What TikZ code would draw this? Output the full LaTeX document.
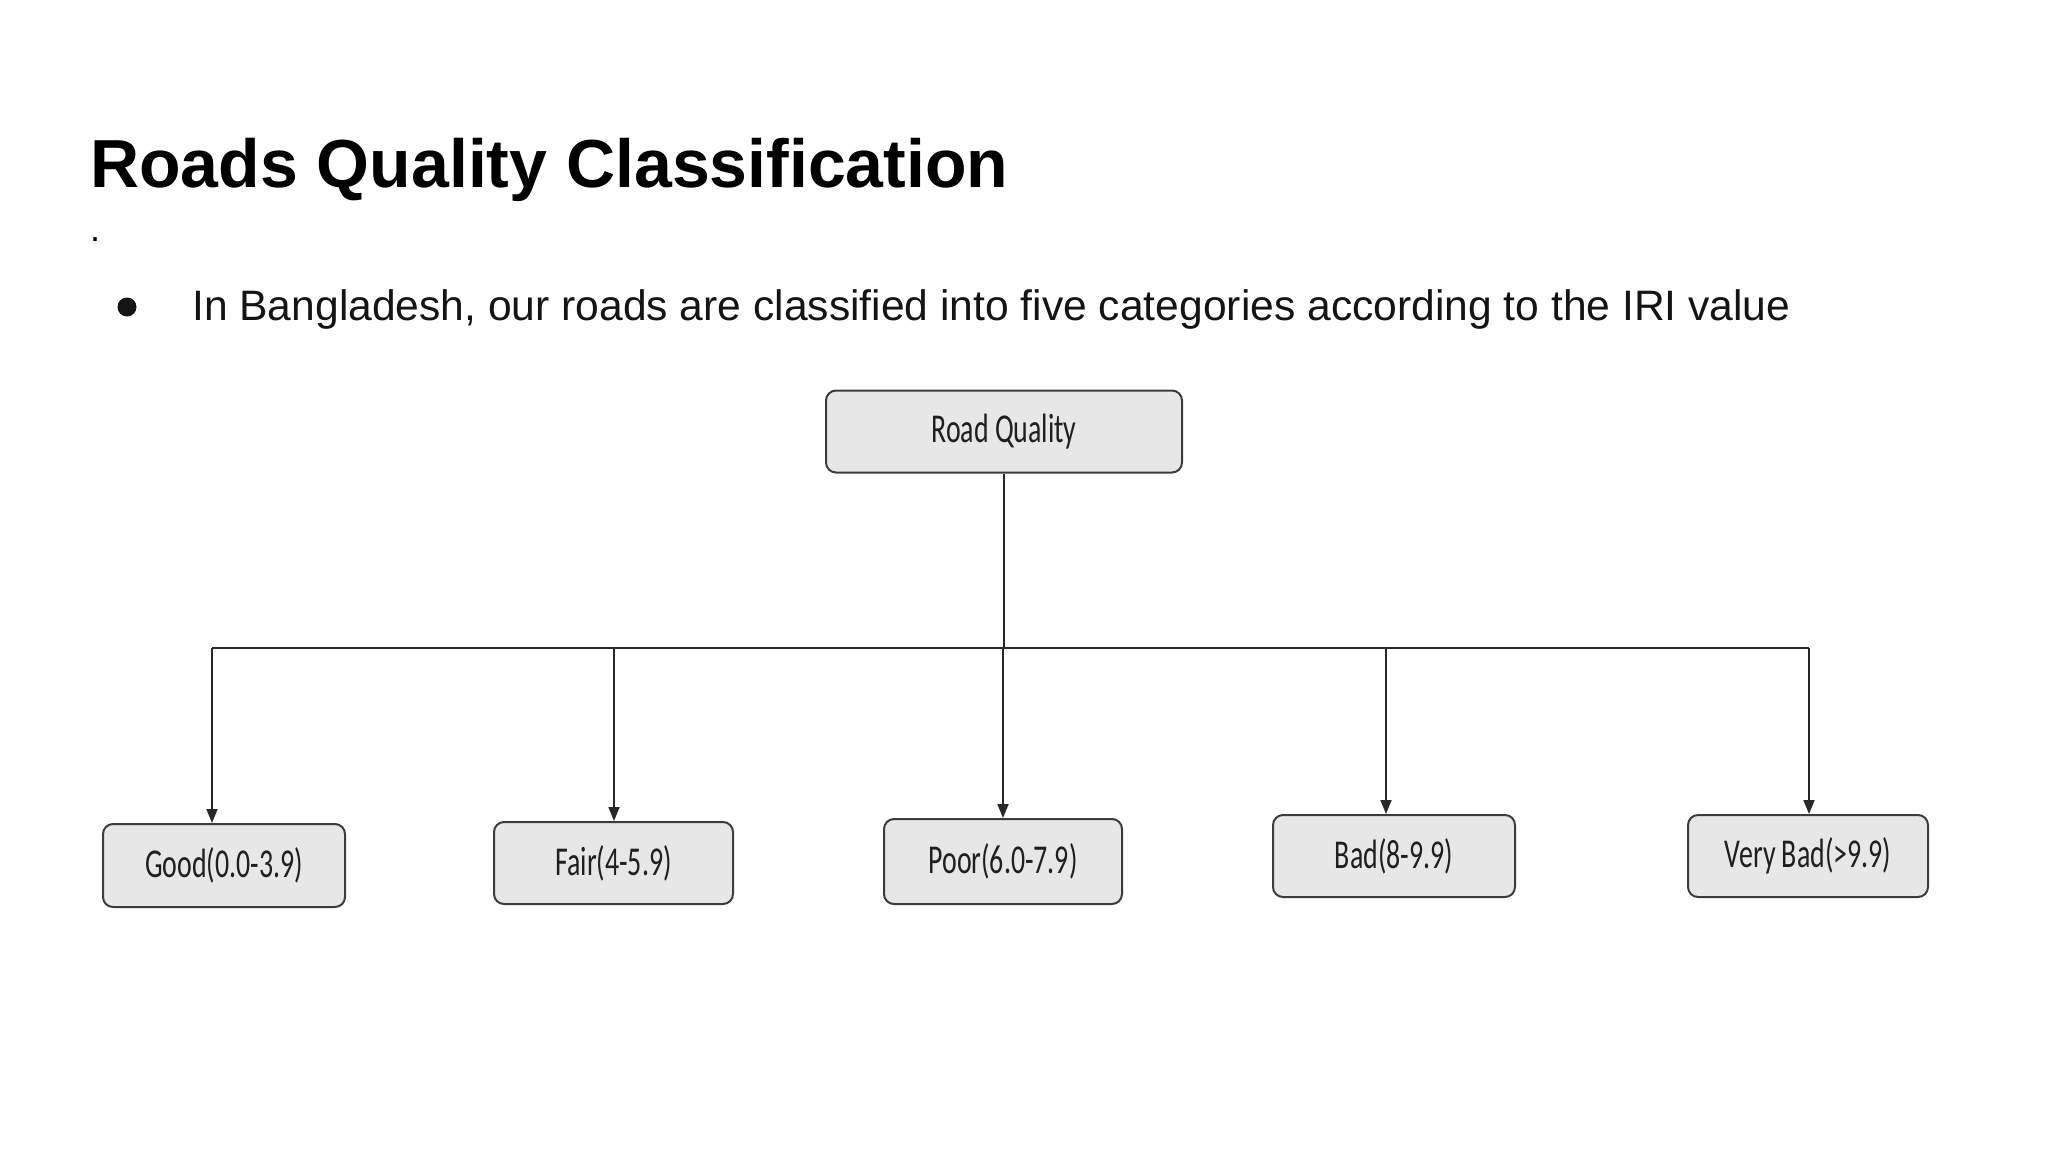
\documentclass[tikz,border=0pt]{standalone}
\usepackage{fontspec}
\setmainfont{Liberation Sans}
\newfontfamily\boxfont[FakeStretch=0.68]{Carlito}
\usetikzlibrary{arrows.meta}
\definecolor{boxfill}{RGB}{231,231,231}
\definecolor{boxline}{RGB}{60,60,60}
\definecolor{linecol}{RGB}{40,40,40}
\begin{document}
\begin{tikzpicture}[x=1pt,y=-1pt,
  qbox/.style={draw=boxline, line width=2pt, fill=boxfill, rounded corners=10pt,
    minimum height=82pt, inner sep=0pt, font=\boxfont\fontsize{41}{41}\selectfont, text=black!88},
  conn/.style={draw=linecol, line width=1.8pt},
  arr/.style={conn, -{Triangle[length=14pt,width=11pt]}}]
\useasboundingbox[fill=white] (0,0) rectangle (2048,1152);
% title and bullet text
\node[anchor=base west, inner sep=0pt, font=\bfseries\fontsize{68}{68}\selectfont] (title) at (90,187) {Roads Quality Classification};
\node[anchor=base west, inner sep=0pt, font=\fontsize{36}{36}\selectfont] (dot) at (90,241) {.};
\node[circle, fill=black!92, minimum size=19pt, inner sep=0pt] (bullet) at (127,307) {};
\node[anchor=base west, inner sep=0pt, font=\fontsize{42.6}{42.6}\selectfont, text=black!92] (btext) at (192,320) {In Bangladesh, our roads are classified into five categories according to the IRI value};
% boxes
\node[qbox, minimum width=356pt] (top) at (1004,431.5) {Road Quality};
\node[qbox, minimum width=242pt, minimum height=83pt] (good) at (224,865.5) {Good(0.0-3.9)};
\node[qbox, minimum width=239pt] (fair) at (613.5,863) {Fair(4-5.9)};
\node[qbox, minimum width=238pt, minimum height=85pt] (poor) at (1003,861.5) {Poor(6.0-7.9)};
\node[qbox, minimum width=242pt] (bad) at (1394,856) {Bad(8-9.9)};
\node[qbox, minimum width=240pt] (vbad) at (1808,856) {Very Bad(>9.9)};
% bus coordinates
\coordinate (busL) at (212,648);
\coordinate (busR) at (1809,648);
\coordinate (c1) at (212,648);
\coordinate (c2) at (614,648);
\coordinate (c3) at (1003,648);
\coordinate (c4) at (1386,648);
\coordinate (c5) at (1809,648);
% connectors
\draw[conn] (top.south) -- (top.south |- busL);
\draw[conn] (busL) -- (busR);
\draw[arr] (c1) -- (c1 |- good.north);
\draw[arr] (c2) -- (c2 |- fair.north);
\draw[arr] (c3) -- (c3 |- poor.north);
\draw[arr] (c4) -- (c4 |- bad.north);
\draw[arr] (c5) -- (c5 |- vbad.north);
\end{tikzpicture}
\end{document}
